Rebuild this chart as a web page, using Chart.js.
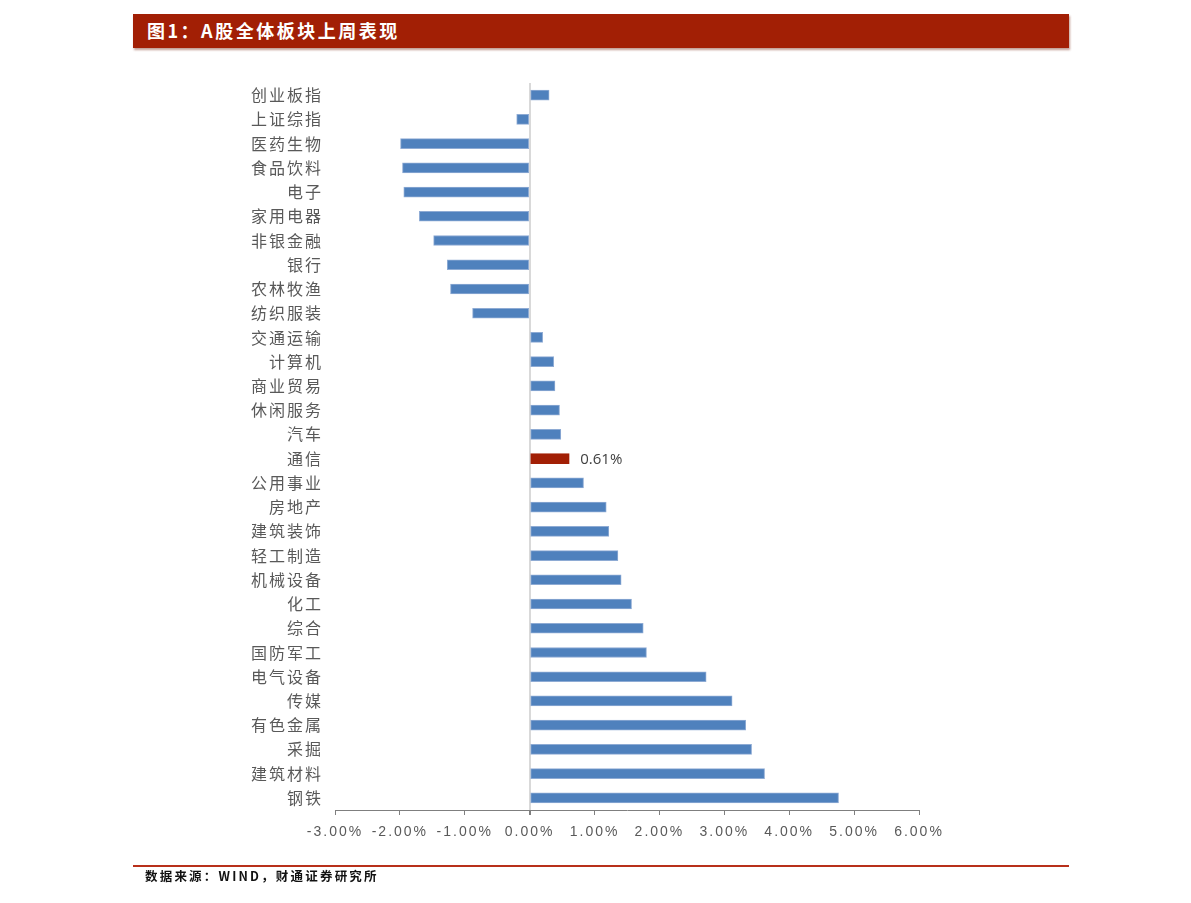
<!DOCTYPE html>
<html>
<head>
<meta charset="utf-8">
<script src="https://cdn.jsdelivr.net/npm/chart.js@4.4.1/dist/chart.umd.min.js"></script>
<style>
  html, body { margin:0; padding:0; background:#fff; }
  body { width:1191px; height:903px; position:relative; overflow:hidden; }
  #banner { position:absolute; left:133px; top:14px; width:936px; height:34px; background:#A21F05;
            box-shadow: 1px 2px 2px rgba(120,40,20,0.45); }
  #banner span { position:absolute; left:14px; top:5px; color:#fff; font-family:"Noto Sans CJK SC", sans-serif;
            font-weight:700; font-size:18px; letter-spacing:2.5px; line-height:23px; }
  #rule { position:absolute; left:133px; top:865px; width:936px; height:1.5px; background:#B8301A; }
  #source { position:absolute; left:145px; top:867px; font-family:"Noto Sans CJK SC", sans-serif; font-weight:700;
            font-size:12.5px; letter-spacing:2.2px; color:#111; line-height:18px; }
  #c { position:absolute; left:0; top:0; }
</style>
</head>
<body>
<div id="banner"><span>图1：A股全体板块上周表现</span></div>
<canvas id="c" width="1191" height="903"></canvas>
<div id="rule"></div>
<div id="source">数据来源：WIND，财通证券研究所</div>
<script>
const categories = ["创业板指","上证综指","医药生物","食品饮料","电子","家用电器","非银金融","银行","农林牧渔","纺织服装",
  "交通运输","计算机","商业贸易","休闲服务","汽车","通信","公用事业","房地产","建筑装饰","轻工制造",
  "机械设备","化工","综合","国防军工","电气设备","传媒","有色金属","采掘","建筑材料","钢铁"];
const weeklyChange = [0.30,-0.20,-1.99,-1.96,-1.94,-1.70,-1.48,-1.27,-1.22,-0.88,
  0.20,0.37,0.39,0.46,0.48,0.61,0.83,1.18,1.22,1.36,
  1.41,1.57,1.75,1.80,2.72,3.12,3.33,3.42,3.62,4.76];
const highlightCategory = "通信";
const xTickLabels = ["-3.00%","-2.00%","-1.00%","0.00%","1.00%","2.00%","3.00%","4.00%","5.00%","6.00%"];

const barColors = categories.map(c => c === highlightCategory ? "#A21F05" : "#4F81BD");
const borderColors = categories.map(c => c === highlightCategory ? "#A21F05" : "#8EABD4");

const spacingPlugin = {
  id: "spacing",
  beforeUpdate(chart) { chart.ctx.letterSpacing = "2px"; },
  beforeLayout(chart) { chart.ctx.letterSpacing = "2px"; },
  beforeDraw(chart) { chart.ctx.letterSpacing = "2px"; }
};

const labelPlugin = {
  id: "valueLabel",
  afterDatasetsDraw(chart) {
    const idx = categories.indexOf(highlightCategory);
    const el = chart.getDatasetMeta(0).data[idx];
    const ctx = chart.ctx;
    ctx.save();
    ctx.letterSpacing = "0px";
    ctx.font = '15px "Open Sans", "Liberation Sans", sans-serif';
    ctx.fillStyle = "#404040";
    ctx.textAlign = "left";
    ctx.textBaseline = "middle";
    ctx.fillText(weeklyChange[idx].toFixed(2) + "%", el.x + 11, el.y + 1);
    ctx.restore();
  }
};

new Chart(document.getElementById("c"), {
  type: "bar",
  data: {
    labels: categories,
    datasets: [{
      data: weeklyChange,
      backgroundColor: barColors,
      borderColor: borderColors,
      borderWidth: 1,
      borderSkipped: false,
      barThickness: 10
    }]
  },
  options: {
    indexAxis: "y",
    responsive: false,
    animation: false,
    devicePixelRatio: 1,
    layout: { padding: { left: 0, right: 272, top: 83, bottom: 0 } },
    plugins: { legend: { display: false }, tooltip: { enabled: false } },
    scales: {
      x: {
        type: "linear",
        min: -3, max: 6,
        afterFit(scale) { scale.height = 93; },
        ticks: {
          stepSize: 1,
          padding: 9,
          color: "#595959",
          font: { family: '"Liberation Sans", sans-serif', size: 14 },
          maxRotation: 0,
          callback: (v, i) => xTickLabels[i]
        },
        grid: {
          drawOnChartArea: true,
          drawTicks: true,
          tickLength: 5,
          tickColor: "#7f7f7f",
          color: (c) => (c.tick && c.tick.value === 0) ? "#d9d9d9" : "rgba(0,0,0,0)",
          lineWidth: (c) => (c.tick && c.tick.value === 0) ? 2 : 1
        },
        border: { display: true, color: "#7f7f7f", width: 1 }
      },
      y: {
        afterFit(scale) { scale.width = 335; },
        grid: { display: false, drawTicks: false },
        border: { display: false },
        ticks: {
          padding: 12,
          color: "#595959",
          autoSkip: false,
          font: { family: '"Noto Sans CJK SC", sans-serif', size: 16 }
        }
      }
    }
  },
  plugins: [spacingPlugin, labelPlugin]
});
</script>
</body>
</html>
